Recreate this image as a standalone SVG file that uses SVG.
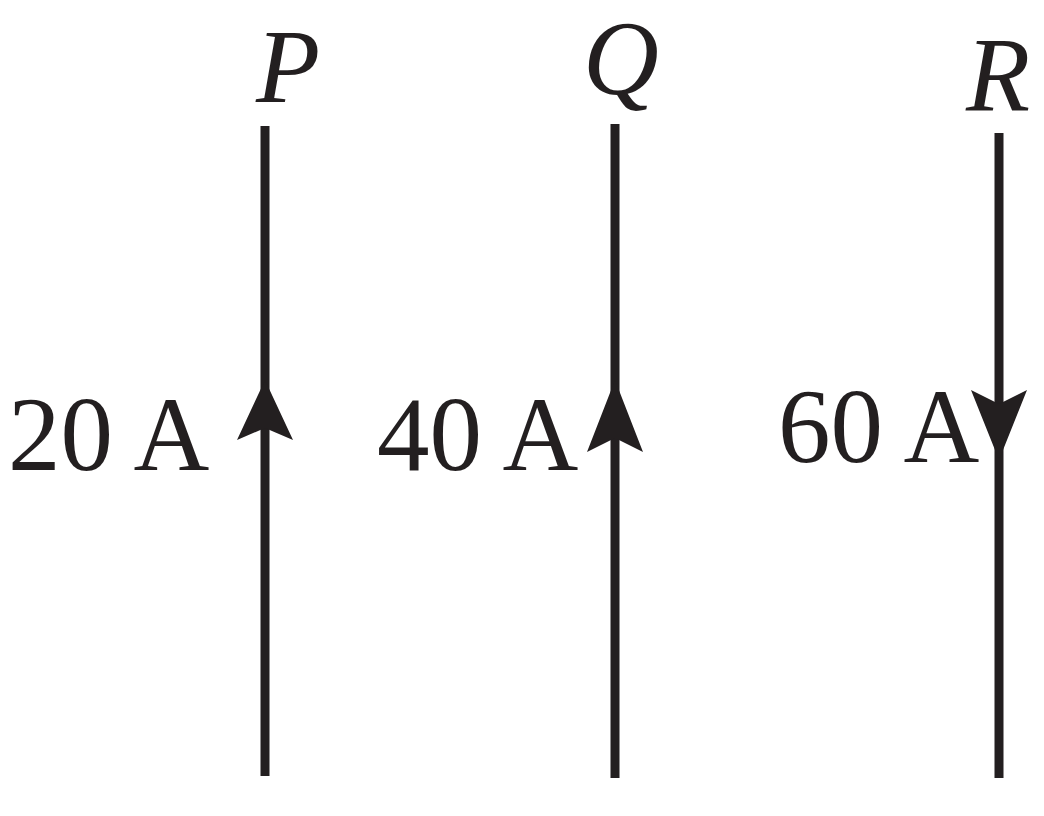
<svg xmlns="http://www.w3.org/2000/svg" width="1044" height="816" viewBox="0 0 1044 816">
<style>
.w{stroke:#231f20;stroke-width:9;fill:none}
.h{fill:#231f20}
.t{font-family:"Liberation Serif",serif;font-size:105px;fill:#231f20}
.i{font-style:italic}
</style>
<rect width="1044" height="816" fill="#fff"/>
<g id="connectors">
<line id="wireP" class="w" x1="265" y1="126" x2="265" y2="776"/>
<line id="wireQ" class="w" x1="615" y1="124" x2="615" y2="778"/>
<line id="wireR" class="w" x1="999" y1="133" x2="999" y2="778"/>
<path class="h" d="M265,380 L293,440 L265,428 L237,440 Z"/>
<path class="h" d="M615,380 L643,452 L615,438 L587,452 Z"/>
<path class="h" d="M999,460 L1027,390 L999,404 L971,390 Z"/>
</g>
<g id="P"><text class="t i" x="256" y="102">P</text><text class="t" x="8" y="470">20 A</text></g>
<g id="Q"><text class="t i" x="583" y="94">Q</text><text class="t" x="377" y="470">40 A</text></g>
<g id="R"><text class="t i" x="966" y="110">R</text><text class="t" x="778" y="462">60 A</text></g>
</svg>
